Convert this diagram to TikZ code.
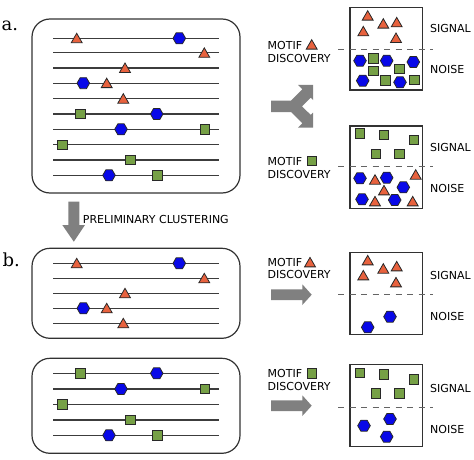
\documentclass[tikz,border=0pt]{standalone}
\usepackage{fontspec}
\setmainfont{DejaVu Sans}
\newfontfamily\panelfont{DejaVu Serif}
\usetikzlibrary{shapes.geometric}
\definecolor{tric}{RGB}{232,98,62}
\definecolor{hexc}{RGB}{8,8,232}
\definecolor{sqc}{RGB}{118,160,70}
\definecolor{outc}{RGB}{40,40,40}
\definecolor{linec}{RGB}{60,60,60}
\definecolor{boxc}{RGB}{50,50,50}
\definecolor{dashc}{RGB}{100,100,100}
\definecolor{arrc}{RGB}{128,128,128}
\tikzset{
  tri/.style={regular polygon, regular polygon sides=3, minimum size=12.6pt, inner sep=0pt, fill=tric, draw=outc, line width=0.8pt},
  hexa/.style={regular polygon, regular polygon sides=6, minimum size=12.6pt, inner sep=0pt, fill=hexc, draw=outc, line width=0.8pt},
  sqr/.style={rectangle, minimum size=9.6pt, inner sep=0pt, fill=sqc, draw=outc, line width=0.8pt},
  seqline/.style={draw=linec, line width=1.1pt},
  panel/.style={draw=boxc, line width=1.2pt, rounded corners=18pt},
  result/.style={draw=boxc, line width=1.2pt},
  sepline/.style={draw=dashc, line width=1.2pt, dash pattern=on 6pt off 5.5pt},
  lbl/.style={font=\fontsize{11}{13}\selectfont, inner sep=0pt, anchor=west},
  plabel/.style={font=\panelfont\fontsize{18}{20}\selectfont, inner sep=0pt, anchor=base west},
  bigarrow/.style={fill=arrc, draw=none},
}
\begin{document}
\begin{tikzpicture}[x=1pt,y=-1pt]
\useasboundingbox (0,0) rectangle (474,460);

% ---------- panel labels
\node[plabel] (la) at (1.5,30.7) {a.};
\node[plabel] (lb) at (2.5,266) {b.};

% ---------- panel a: all sequences
\draw[panel] (32,19) rectangle (240,193);
\foreach \y in {38.3,52.9,68,83.2,98.7,114,129.3,144.7,160,175.3}
  \draw[seqline] (53,\y) -- (219,\y);
\node[tri] (a1) at (76.7,39.6) {};
\node[tri] (a2) at (204.3,54.2) {};
\node[tri] (a3) at (125,69.3) {};
\node[tri] (a4) at (106.7,84.5) {};
\node[tri] (a5) at (123.3,100) {};
\node[hexa] (a6) at (179.3,38.3) {};
\node[hexa] (a7) at (83.3,83.2) {};
\node[hexa] (a8) at (156.7,114) {};
\node[hexa] (a9) at (121,129.3) {};
\node[hexa] (a10) at (109,175.3) {};
\node[sqr] (a11) at (80.3,114) {};
\node[sqr] (a12) at (204.7,129.3) {};
\node[sqr] (a13) at (62.3,144.7) {};
\node[sqr] (a14) at (130.3,160) {};
\node[sqr] (a15) at (157.3,175.3) {};

% ---------- fork arrow
\fill[bigarrow] (271,100.7) -- (291,100.7) -- (302.35,89.35) -- (298,85) -- (313,85) -- (313,100)
  -- (310.75,97.75) -- (302,106.35) -- (310.75,114.95) -- (313,112.7) -- (313,127.7) -- (298,127.7)
  -- (302.35,123.35) -- (291,112) -- (271,112) -- cycle;

% ---------- result box a, triangle motif
\node[lbl] (m1) at (267.5,45) {MOTIF};
\node[tri] (m1s) at (311.7,46) {};
\node[lbl] (d1) at (267.5,58.3) {DISCOVERY};
\draw[result] (350,7.3) rectangle (422.7,90);
\draw[sepline] (338,49.3) -- (433,49.3);
\node[lbl] (s1) at (430,28.3) {SIGNAL};
\node[lbl] (n1) at (430,69.3) {NOISE};
\node[tri] (r1) at (367.7,17) {};
\node[tri] (r2) at (383.3,25) {};
\node[tri] (r3) at (396.7,23.7) {};
\node[tri] (r4) at (363.3,32.7) {};
\node[tri] (r5) at (396,39.3) {};
\node[hexa] (r6) at (360,60.7) {};
\node[hexa] (r7) at (386.7,60.7) {};
\node[hexa] (r8) at (413.3,62) {};
\node[hexa] (r9) at (362.7,80.7) {};
\node[hexa] (r10) at (400,82.3) {};
\node[sqr] (r11) at (373.3,58.3) {};
\node[sqr] (r12) at (373.3,71) {};
\node[sqr] (r13) at (399.3,69) {};
\node[sqr] (r14) at (385.3,80.7) {};
\node[sqr] (r15) at (414.3,80) {};

% ---------- result box a, square motif
\node[lbl] (m2) at (267.5,161) {MOTIF};
\node[sqr] (m2s) at (311.7,161) {};
\node[lbl] (d2) at (267.5,174) {DISCOVERY};
\draw[result] (350,126) rectangle (422.7,208.3);
\draw[sepline] (338,166.7) -- (433,166.7);
\node[lbl] (s2) at (430,147.3) {SIGNAL};
\node[lbl] (n2) at (430,188.3) {NOISE};
\node[sqr] (q1) at (360,133.3) {};
\node[sqr] (q2) at (384,135) {};
\node[sqr] (q3) at (414,140) {};
\node[sqr] (q4) at (375.7,154) {};
\node[sqr] (q5) at (399.3,154) {};
\node[hexa] (q6) at (360,178.3) {};
\node[hexa] (q7) at (386.7,177.7) {};
\node[hexa] (q8) at (403.3,187.3) {};
\node[hexa] (q9) at (362,199.3) {};
\node[hexa] (q10) at (394.7,200) {};
\node[tri] (q11) at (375,181) {};
\node[tri] (q12) at (415.7,176) {};
\node[tri] (q13) at (384,191.7) {};
\node[tri] (q14) at (375,202.7) {};
\node[tri] (q15) at (412.7,202.7) {};

% ---------- preliminary clustering arrow
\fill[bigarrow] (68.3,201.7) -- (79.3,201.7) -- (79.3,225) -- (85,225) -- (73.8,241.7) -- (62.3,225) -- (68.3,225) -- cycle;
\node[lbl] (pc) at (82.7,219.3) {PRELIMINARY CLUSTERING};

% ---------- panel b: triangle cluster
\draw[panel] (32,248.3) rectangle (240,338.3);
\foreach \y in {263.3,278.3,293.3,308.3,323.3}
  \draw[seqline] (53,\y) -- (219,\y);
\node[tri] (b1) at (76.7,264.6) {};
\node[tri] (b2) at (204.3,279.6) {};
\node[tri] (b3) at (125,294.6) {};
\node[tri] (b4) at (106.7,309.6) {};
\node[tri] (b5) at (123.3,324.6) {};
\node[hexa] (b6) at (179.3,263.3) {};
\node[hexa] (b7) at (83.3,308.3) {};

% ---------- panel b: square cluster
\draw[panel] (32,358.3) rectangle (240,453.3);
\foreach \y in {373.3,389,404.3,420,435.3}
  \draw[seqline] (53,\y) -- (219,\y);
\node[sqr] (c1) at (80.3,373.3) {};
\node[hexa] (c2) at (156.7,373.3) {};
\node[hexa] (c3) at (121,389) {};
\node[sqr] (c4) at (204.7,389) {};
\node[sqr] (c5) at (62.3,404.3) {};
\node[sqr] (c6) at (130.3,420) {};
\node[hexa] (c7) at (109,435.3) {};
\node[sqr] (c8) at (157.3,435.3) {};

% ---------- right arrows
\fill[bigarrow] (271,289.3) -- (302.3,289.3) -- (302.3,284.3) -- (311.7,294.7) -- (302.3,305) -- (302.3,300) -- (271,300) -- cycle;
\fill[bigarrow] (271,400.3) -- (302.3,400.3) -- (302.3,395.3) -- (311.7,405.7) -- (302.3,416) -- (302.3,411) -- (271,411) -- cycle;

% ---------- result box b, triangle motif
\node[lbl] (m3) at (267.5,262.7) {MOTIF};
\node[tri] (m3s) at (310,263.7) {};
\node[lbl] (d3) at (267.5,274.3) {DISCOVERY};
\draw[result] (350,252.3) rectangle (422.7,334.3);
\draw[sepline] (338,294.7) -- (433,294.7);
\node[lbl] (s3) at (430,275.7) {SIGNAL};
\node[lbl] (n3) at (430,316.7) {NOISE};
\node[tri] (u1) at (367.7,261.7) {};
\node[tri] (u2) at (383.3,270) {};
\node[tri] (u3) at (396.7,267.7) {};
\node[tri] (u4) at (363.3,276.7) {};
\node[tri] (u5) at (396,283.7) {};
\node[hexa] (u6) at (390,316.7) {};
\node[hexa] (u7) at (367.7,327.3) {};

% ---------- result box b, square motif
\node[lbl] (m4) at (267.5,373.3) {MOTIF};
\node[sqr] (m4s) at (311.7,373.3) {};
\node[lbl] (d4) at (267.5,386) {DISCOVERY};
\draw[result] (350,364.3) rectangle (422.7,446.7);
\draw[sepline] (338,407.7) -- (433,407.7);
\node[lbl] (s4) at (430,388.3) {SIGNAL};
\node[lbl] (n4) at (430,429.3) {NOISE};
\node[sqr] (v1) at (360,372.7) {};
\node[sqr] (v2) at (384,374.3) {};
\node[sqr] (v3) at (414,379.3) {};
\node[sqr] (v4) at (375.7,393.3) {};
\node[sqr] (v5) at (399.3,393.3) {};
\node[hexa] (v6) at (390,419) {};
\node[hexa] (v7) at (364,425.7) {};
\node[hexa] (v8) at (386.7,436.7) {};
\end{tikzpicture}
\end{document}
